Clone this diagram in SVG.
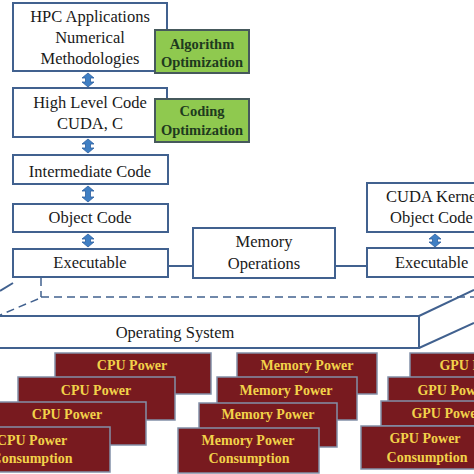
<svg xmlns="http://www.w3.org/2000/svg" width="474" height="474" viewBox="0 0 474 474">
<defs>
<style>
.box{fill:#ffffff;stroke:#41618f;stroke-width:2}
.green{fill:#8fc94f;stroke:#46595c;stroke-width:2}
.pw{fill:#781a1f;stroke:#8290a8;stroke-width:1.5}
text{font-family:'Liberation Serif','DejaVu Serif',serif}
.t{font-size:16.5px;fill:#1a1a1a;text-anchor:middle}
.g{font-size:14.5px;font-weight:bold;fill:#1e3a1e;text-anchor:middle}
.p{font-size:14px;font-weight:bold;fill:#f2d24a;text-anchor:middle}
.ln{stroke:#41618f;stroke-width:2;fill:none}
.dash{stroke:#41618f;stroke-width:1.5;fill:none;stroke-dasharray:8 5}
.arr{fill:#3f7fc4;stroke:#2f5f9f;stroke-width:0.8}
</style>
</defs>
<rect width="474" height="474" fill="#ffffff"/>

<g id="connectors">
<line class="ln" x1="168" y1="266" x2="193" y2="266"/>
<line class="ln" x1="335" y1="266" x2="367" y2="266"/>
<polygon class="arr" points="88,73 94,78 90.5,78 90.5,82 94,82 88,87 82,82 85.5,82 85.5,78 82,78"/>
<polygon class="arr" points="88,139 94,144 90.5,144 90.5,148 94,148 88,153 82,148 85.5,148 85.5,144 82,144"/>
<polygon class="arr" points="88,186 94,191 90.5,191 90.5,197 94,197 88,202 82,197 85.5,197 85.5,191 82,191"/>
<polygon class="arr" points="88,234 94,239 90.5,239 90.5,242 94,242 88,247 82,242 85.5,242 85.5,239 82,239"/>
<polygon class="arr" points="435,234 441,239 437.5,239 437.5,242 441,242 435,247 429,242 432.5,242 432.5,239 429,239"/>
</g>

<g id="os">
<line class="dash" x1="41" y1="278" x2="41" y2="297"/>
<line class="dash" x1="41" y1="297" x2="474" y2="297"/>
<line class="dash" x1="38" y1="299" x2="0" y2="315"/>
<line class="ln" x1="0" y1="291" x2="13" y2="283"/>
<rect class="box" x="-3" y="316" width="422" height="32"/>
<polyline class="ln" points="419,316 474,290"/>
<polyline class="ln" points="419,348 474,323"/>
<text class="t" x="175" y="338" font-family="Liberation Serif, serif">Operating System</text>
</g>

<g id="hpc" font-family="Liberation Serif, serif">
<rect class="box" x="13" y="3" width="154" height="68"/>
<text class="t" x="90" y="22">HPC Applications</text>
<text class="t" x="90" y="43">Numerical</text>
<text class="t" x="90" y="64">Methodologies</text>
</g>
<g id="algo">
<rect class="green" x="155" y="30" width="94" height="43"/>
<text class="g" x="202" y="49">Algorithm</text>
<text class="g" x="202" y="67">Optimization</text>
</g>
<g id="hlc">
<rect class="box" x="13" y="88" width="154" height="49"/>
<text class="t" x="90" y="108">High Level Code</text>
<text class="t" x="90" y="129">CUDA, C</text>
</g>
<g id="coding">
<rect class="green" x="155" y="99" width="94" height="43"/>
<text class="g" x="202" y="116">Coding</text>
<text class="g" x="202" y="135">Optimization</text>
</g>
<g id="intermediate">
<rect class="box" x="13" y="155" width="155" height="29"/>
<text class="t" x="90" y="177">Intermediate Code</text>
</g>
<g id="object">
<rect class="box" x="13" y="204" width="155" height="28"/>
<text class="t" x="90" y="223">Object Code</text>
</g>
<g id="exec">
<rect class="box" x="13" y="249" width="155" height="28"/>
<text class="t" x="90" y="268">Executable</text>
</g>
<g id="memops">
<rect class="box" x="193" y="228" width="142" height="50"/>
<text class="t" x="264" y="247">Memory</text>
<text class="t" x="264" y="269">Operations</text>
</g>
<g id="cuda">
<rect class="box" x="367" y="183" width="120" height="49"/>
<text class="t" x="386" y="202" style="text-anchor:start">CUDA Kernel</text>
<text class="t" x="390" y="223" style="text-anchor:start">Object Code</text>
</g>
<g id="exec2">
<rect class="box" x="367" y="248" width="120" height="29"/>
<text class="t" x="395" y="268" style="text-anchor:start">Executable</text>
</g>

<g id="cpu">
<rect class="pw" x="55" y="353" width="156" height="41"/>
<text class="p" x="132" y="370">CPU Power</text>
<rect class="pw" x="18" y="377" width="157" height="43"/>
<text class="p" x="96" y="395">CPU Power</text>
<rect class="pw" x="-5" y="402" width="151" height="43"/>
<text class="p" x="67" y="419">CPU Power</text>
<rect class="pw" x="-20" y="427" width="130" height="45"/>
<text class="p" x="32" y="445">CPU Power</text>
<text class="p" x="32" y="463">Consumption</text>
</g>
<g id="memory">
<rect class="pw" x="237" y="353" width="140" height="41"/>
<text class="p" x="307" y="370">Memory Power</text>
<rect class="pw" x="217" y="377" width="140" height="43"/>
<text class="p" x="286" y="395">Memory Power</text>
<rect class="pw" x="199" y="403" width="138" height="44"/>
<text class="p" x="268" y="419">Memory Power</text>
<rect class="pw" x="178" y="428" width="141" height="45"/>
<text class="p" x="248" y="445">Memory Power</text>
<text class="p" x="249" y="463">Consumption</text>
</g>
<g id="gpu">
<rect class="pw" x="410" y="353" width="80" height="41"/>
<text class="p" x="475" y="370">GPU Power</text>
<rect class="pw" x="388" y="377" width="100" height="43"/>
<text class="p" x="453" y="395">GPU Power</text>
<rect class="pw" x="381" y="401" width="100" height="25"/>
<text class="p" x="447" y="418">GPU Power</text>
<rect class="pw" x="361" y="426" width="120" height="43"/>
<text class="p" x="425" y="443">GPU Power</text>
<text class="p" x="427" y="462">Consumption</text>
</g>
</svg>
